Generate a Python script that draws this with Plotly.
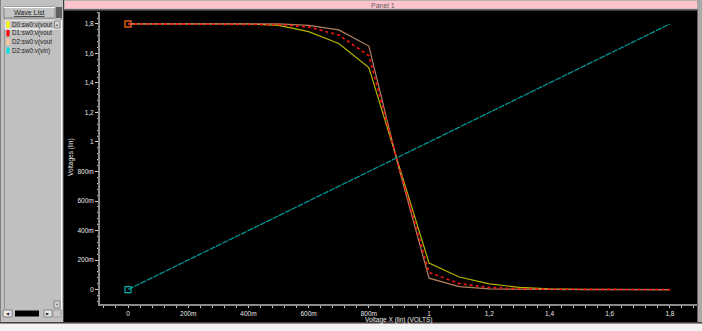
import plotly.graph_objects as go

# ---------------- data ----------------
vin = [0.0, 0.1, 0.2, 0.3, 0.4, 0.5, 0.6, 0.7, 0.8, 0.9, 1.0, 1.1, 1.2, 1.3, 1.4, 1.5, 1.6, 1.7, 1.8]
d0_vout = [1.8, 1.8, 1.8, 1.8, 1.8, 1.79, 1.748, 1.668, 1.505, 0.84, 0.179, 0.085, 0.038, 0.015, 0.005, 0.002, 0.001, 0.0, 0.0]
d1_vout = [1.8, 1.8, 1.8, 1.8, 1.8, 1.796, 1.78, 1.725, 1.585, 0.83, 0.116, 0.04, 0.014, 0.005, 0.002, 0.001, 0.0, 0.0, 0.0]
d2_vout = [1.8, 1.8, 1.8, 1.8, 1.8, 1.8, 1.79, 1.76, 1.65, 0.82, 0.077, 0.02, 0.004, 0.001, 0.0, 0.0, 0.0, 0.0, 0.0]
d2_vin = [0.0, 0.1, 0.2, 0.3, 0.4, 0.5, 0.6, 0.7, 0.8, 0.9, 1.0, 1.1, 1.2, 1.3, 1.4, 1.5, 1.6, 1.7, 1.8]

tick_vals = [0, 0.2, 0.4, 0.6, 0.8, 1.0, 1.2, 1.4, 1.6, 1.8]
tick_text = ["0", "200m", "400m", "600m", "800m", "1", "1,2", "1,4", "1,6", "1,8"]

wave_names = ["D0:sw0:v(vout", "D1:sw0:v(vout", "D2:sw0:v(vout", "D2:sw0:v(vin)"]
wave_swatch = ["#ffff00", "#ff0000", "#ffc890", "#00e0e0"]

x_title = "Voltage X (lin) (VOLTS)"
y_title = "Voltages (lin)"
panel_title = "Panel 1"

# ---------------- layout geometry ----------------
W, H = 702, 331
ML, MR, MT, MB = 100, 5, 12, 27
PW, PH = W - ML - MR, H - MT - MB


def px(x):
    return (x - ML) / PW


def py(y):
    return (H - MB - y) / PH


FONT = "Liberation Sans Narrow, Liberation Sans, Arial, sans-serif"

fig = go.Figure()

fig.add_trace(go.Scatter(x=vin, y=d0_vout, mode="lines", line=dict(color="#b4b400", width=1.2), hoverinfo="skip"))
fig.add_trace(go.Scatter(x=vin, y=d2_vout, mode="lines", line=dict(color="#b08060", width=1.2), hoverinfo="skip"))
fig.add_trace(go.Scatter(x=vin, y=d1_vout, mode="lines", line=dict(color="#ff1010", width=1.6, dash="dot"), hoverinfo="skip"))
fig.add_trace(go.Scatter(x=vin, y=d2_vin, mode="lines", line=dict(color="#009c9c", width=1.2, dash="6px,1px"), hoverinfo="skip"))
# start markers
fig.add_trace(go.Scatter(x=[vin[0]], y=[d1_vout[0]], mode="markers",
                         marker=dict(symbol="square-open", size=6, color="#e06020", line=dict(width=1.5)), hoverinfo="skip"))
fig.add_trace(go.Scatter(x=[vin[0]], y=[d2_vin[0]], mode="markers",
                         marker=dict(symbol="square-open", size=6, color="#00b0b0", line=dict(width=1.2)), hoverinfo="skip"))

shapes = []
annotations = []


def rect(x0, y0, x1, y1, fill, line=None, lw=1, layer="above"):
    shapes.append(dict(type="rect", xref="paper", yref="paper", x0=px(x0), x1=px(x1), y0=py(y1), y1=py(y0),
                       fillcolor=fill, line=dict(color=line if line else fill, width=lw if line else 0), layer=layer))


def hline(x0, x1, y, color, lw=1):
    shapes.append(dict(type="line", xref="paper", yref="paper", x0=px(x0), x1=px(x1), y0=py(y), y1=py(y),
                       line=dict(color=color, width=lw), layer="above"))


def vline(x, y0, y1, color, lw=1):
    shapes.append(dict(type="line", xref="paper", yref="paper", x0=px(x), x1=px(x), y0=py(y0), y1=py(y1),
                       line=dict(color=color, width=lw), layer="above"))


def text(x, y, s, size=7, color="#202020", xanchor="left", angle=0):
    annotations.append(dict(x=px(x), y=py(y), xref="paper", yref="paper", text=s, showarrow=False,
                            xanchor=xanchor, yanchor="middle", textangle=angle,
                            font=dict(family=FONT, size=size, color=color)))


# window chrome
rect(0, 0, 64, 322, "#c0c0c0")
vline(0.5, 0, 322, "#808080")
vline(63.5, 0, 322, "#404040", 1)
rect(64, 0, 702, 10, "#b8b0b0")
rect(65, 1, 697, 8.5, "#ffc4cc")
hline(64, 697, 10, "#505050", 1.5)
rect(697, 0, 702, 322, "#a8a8a8")
vline(697.5, 9, 322, "#606060")
rect(0, 322.5, 702, 331, "#f2f2f2")
hline(0, 702, 322.8, "#3a2a2a", 1.2)
text(383, 5, panel_title, size=7, color="#606060", xanchor="center")

# axis titles
text(398, 319.5, x_title, size=6.5, color="#e8e8e8", xanchor="center")
text(71, 157, y_title, size=6.5, color="#e8e8e8", xanchor="center", angle=-90)

# wave list panel
rect(4, 7, 55, 18, "#c4c4c4", "#808080")
hline(4, 55, 7.5, "#ffffff")
text(29.5, 12.5, "<u>Wave List</u>", size=7, color="#202020", xanchor="center")
rect(56, 7, 62, 18, "#606060")
vline(61.5, 19, 309, "#ffffff")
vline(4.5, 19, 309, "#909090")
hline(4, 62, 19.5, "#909090")
rect(5, 20, 60, 29, "#c0c0c0", "#ffffff")
for i, (nm, sw) in enumerate(zip(wave_names, wave_swatch)):
    yc = 24.5 + i * 8.7
    rect(6.5, yc - 3.2, 9.5, yc + 3.2, sw)
    text(10, yc, nm, size=6.3, color="#202020")
rect(54.5, 21, 60, 28, "#d8d8d8", "#808080")
text(57.2, 24.5, "▲", size=4, color="#606060", xanchor="center")
rect(54, 301, 60, 308, "#d8d8d8", "#808080")
text(57, 304.5, "▼", size=4, color="#606060", xanchor="center")
rect(3, 310, 12, 317, "#e8e8e8", "#808080")
text(7.5, 313.5, "◀", size=4, color="#202020", xanchor="center")
rect(15, 310.5, 39, 316.5, "#000000")
rect(44, 310, 52, 317, "#e8e8e8", "#808080")
text(48, 313.5, "▶", size=4, color="#202020", xanchor="center")
rect(53, 310, 61, 317, "#c8c8c8", "#a0a0a0")

axis_common = dict(
    showgrid=False, zeroline=False, showline=True, linecolor="#8c8c8c", linewidth=2,
    ticks="outside", tickwidth=1, tickcolor="#d0d0d0",
    tickvals=tick_vals, ticktext=tick_text,
    tickfont=dict(family=FONT, size=6.5, color="#e8e8e8"),
    minor=dict(ticks="outside", ticklen=1.5, tickcolor="#c0c0c0", dtick=0.04, tickwidth=1),
    fixedrange=True,
)

fig.update_layout(
    width=W, height=H, margin=dict(l=ML, r=MR, t=MT, b=MB),
    paper_bgcolor="#000000", plot_bgcolor="#000000", showlegend=False,
    xaxis=dict(range=[-0.093, 1.890], ticklen=2, ticklabelstandoff=0, **axis_common),
    yaxis=dict(range=[-0.098, 1.881], ticklen=3, **axis_common),
    shapes=shapes, annotations=annotations,
)

fig.write_html("out.html")
